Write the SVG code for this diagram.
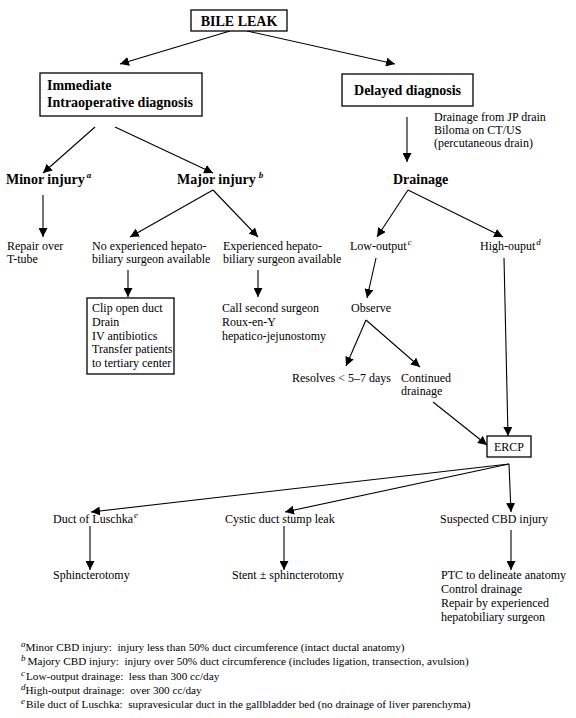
<svg xmlns="http://www.w3.org/2000/svg" width="576" height="718" viewBox="0 0 576 718" font-family="'Liberation Serif', 'DejaVu Serif', 'Times New Roman', serif">
<defs>
<marker id="ah" viewBox="0 0 10 10" refX="10" refY="5" markerWidth="9" markerHeight="9" markerUnits="userSpaceOnUse" orient="auto">
<path d="M0,0 L10,5 L0,10 z" fill="#000"/>
</marker>
</defs>
<style>
text{font-family:'Liberation Serif','DejaVu Serif','Times New Roman',serif;font-size:12px;fill:#000}
.b{font-weight:bold;font-size:14px}
.sup{font-style:italic;font-size:9px}
.fn{font-size:11.2px}
.box{fill:#fff;stroke:#000;stroke-width:1.3}
.c line{stroke:#000;stroke-width:1.1;marker-end:url(#ah)}
</style>
<rect width="576" height="718" fill="#fff"/>
<g class="c" id="connectors">
<line x1="230" y1="31" x2="120" y2="64"/>
<line x1="247" y1="31" x2="395" y2="64"/>
<line x1="407" y1="117" x2="407" y2="162"/>
<line x1="95" y1="127" x2="43" y2="173"/>
<line x1="115" y1="127" x2="213" y2="173"/>
<line x1="43" y1="195" x2="43" y2="237"/>
<line x1="213" y1="190" x2="130" y2="237"/>
<line x1="213" y1="190" x2="258" y2="237"/>
<line x1="408" y1="190" x2="377" y2="237"/>
<line x1="408" y1="190" x2="503" y2="237"/>
<line x1="128" y1="270" x2="128" y2="297"/>
<line x1="258" y1="270" x2="258" y2="297"/>
<line x1="376" y1="258" x2="367" y2="298"/>
<line x1="366" y1="320" x2="346" y2="366"/>
<line x1="366" y1="320" x2="420" y2="367"/>
<line x1="433" y1="402" x2="487" y2="445"/>
<line x1="504" y1="258" x2="508" y2="436"/>
<line x1="509" y1="464" x2="91" y2="512"/>
<line x1="509" y1="464" x2="285" y2="512"/>
<line x1="509" y1="464" x2="511" y2="512"/>
<line x1="90" y1="526" x2="90" y2="570"/>
<line x1="284" y1="526" x2="284" y2="570"/>
<line x1="511" y1="530" x2="511" y2="570"/>
</g>
<g id="bile-leak"><rect class="box" x="191" y="10" width="96" height="21"/><text class="b" x="239" y="26" text-anchor="middle">BILE LEAK</text></g>
<g id="immediate"><rect class="box" x="40" y="73" width="162" height="43"/><text class="b" x="47" y="90">Immediate</text><text class="b" x="47" y="107">Intraoperative diagnosis</text></g>
<g id="delayed"><rect class="box" x="342" y="74" width="131" height="32"/><text class="b" x="407.5" y="95" text-anchor="middle">Delayed diagnosis</text></g>
<g id="delayed-note"><text x="434" y="121">Drainage from JP drain</text><text x="434" y="134">Biloma on CT/US</text><text x="434" y="147">(percutaneous drain)</text></g>
<g id="minor"><text class="b" x="6" y="184">Minor injury<tspan class="sup" dy="-6" dx="2" font-size="10">a</tspan></text></g>
<g id="major"><text class="b" x="177" y="184">Major injury<tspan class="sup" dy="-6" dx="3" font-size="10">b</tspan></text></g>
<g id="drainage"><text class="b" x="393" y="184">Drainage</text></g>
<g id="repair"><text x="7" y="250">Repair over</text><text x="7" y="263">T-tube</text></g>
<g id="no-exp"><text x="92" y="250">No experienced hepato-</text><text x="92" y="263">biliary surgeon available</text></g>
<g id="exp"><text x="223" y="250">Experienced hepato-</text><text x="223" y="263">biliary surgeon available</text></g>
<g id="low"><text x="350" y="250">Low-output<tspan class="sup" dy="-5" dx="1" font-size="7">c</tspan></text></g>
<g id="high"><text x="480" y="250">High-ouput<tspan class="sup" dy="-5" dx="1" font-size="7">d</tspan></text></g>
<g id="clip"><rect class="box" x="87" y="298" width="87" height="76"/><text x="92" y="312">Clip open duct</text><text x="92" y="326">Drain</text><text x="92" y="340">IV antibiotics</text><text x="92" y="353">Transfer patients</text><text x="92" y="367">to tertiary center</text></g>
<g id="call"><text x="222" y="312">Call second surgeon</text><text x="222" y="326">Roux-en-Y</text><text x="222" y="340">hepatico-jejunostomy</text></g>
<g id="observe"><text x="351" y="312">Observe</text></g>
<g id="resolves"><text x="391" y="382" text-anchor="end">Resolves &lt; 5–7 days</text></g>
<g id="continued"><text x="401" y="382">Continued</text><text x="401" y="395">drainage</text></g>
<g id="ercp"><rect class="box" x="487" y="436" width="44" height="21"/><text x="509" y="451" text-anchor="middle">ERCP</text></g>
<g id="luschka"><text x="53" y="523">Duct of Luschka<tspan class="sup" dy="-5" dx="1" font-size="7">e</tspan></text></g>
<g id="cystic"><text x="225" y="523">Cystic duct stump leak</text></g>
<g id="suspected"><text x="440" y="523">Suspected CBD injury</text></g>
<g id="sphinct"><text x="53" y="579">Sphincterotomy</text></g>
<g id="stent"><text x="232" y="579">Stent ± sphincterotomy</text></g>
<g id="ptc"><text x="441" y="579">PTC to delineate anatomy</text><text x="441" y="593">Control drainage</text><text x="441" y="607">Repair by experienced</text><text x="441" y="621">hepatobiliary surgeon</text></g>
<g id="footnotes">
<text class="fn" x="21" y="651"><tspan class="sup" dy="-4" font-size="8">a</tspan><tspan dy="4">Minor CBD injury:&#160; injury less than 50% duct circumference (intact ductal anatomy)</tspan></text>
<text class="fn" x="21" y="665"><tspan class="sup" dy="-4" font-size="8">b</tspan><tspan dy="4" dx="2">Majory CBD injury:&#160; injury over 50% duct circumference (includes ligation, transection, avulsion)</tspan></text>
<text class="fn" x="21" y="680"><tspan class="sup" dy="-4" font-size="7">c</tspan><tspan dy="4" dx="1">Low-output drainage:&#160; less than 300 cc/day</tspan></text>
<text class="fn" x="21" y="694"><tspan class="sup" dy="-4" font-size="8">d</tspan><tspan dy="4">High-output drainage:&#160; over 300 cc/day</tspan></text>
<text class="fn" x="21" y="708"><tspan class="sup" dy="-4" font-size="7">e</tspan><tspan dy="4" dx="1">Bile duct of Luschka:&#160; supravesicular duct in the gallbladder bed (no drainage of liver parenchyma)</tspan></text>
</g>
</svg>
